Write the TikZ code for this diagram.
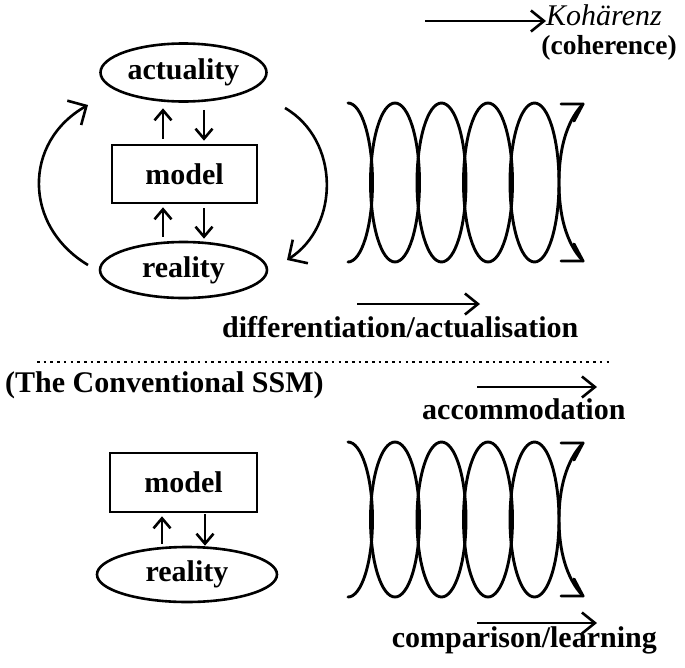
\documentclass[tikz,border=0pt]{standalone}
\usepackage{fontspec}
\setmainfont{Liberation Serif}
\usetikzlibrary{arrows.meta,shapes.geometric}
\begin{document}
\begin{tikzpicture}[x=1pt,y=-1pt,
  txt/.style={font=\bfseries\fontsize{30}{34}\selectfont, inner sep=0pt},
  itxt/.style={font=\itshape\fontsize{30}{34}\selectfont, inner sep=0pt},
  ell/.style={draw, ellipse, line width=2.6pt, inner sep=0pt, txt},
  box/.style={draw, rectangle, line width=2.6pt, inner sep=0pt, txt},
  bigar/.style={line width=2.6pt, -{Straight Barb[length=13pt,width=21pt]}},
  sar/.style={line width=2.6pt, -{Straight Barb[length=10pt,width=17pt]}},
  car/.style={line width=2.6pt, -{Straight Barb[length=14pt,width=28pt]}},
  coil/.style={line width=2.9pt, line join=round, line cap=round},
]
\useasboundingbox (0,0) rectangle (685,667);

% ---------- upper model ----------
\node[ell, minimum width=166pt, minimum height=58pt] (a1) at (183.5,72.5) {actuality};
\node[box, minimum width=145pt, minimum height=58pt] (m1) at (184.5,174) {model};
\node[ell, minimum width=167pt, minimum height=56pt] (r1) at (183.5,270) {reality};

\draw[sar, shorten <=5pt, shorten >=5.5pt] ([xshift=-21.5pt]m1.north) -- ([xshift=-21.5pt]m1.north |- a1.south);
\draw[sar, shorten <=7pt, shorten >=3pt] ([xshift=19.5pt]m1.north |- a1.south) -- ([xshift=19.5pt]m1.north);
\draw[sar, shorten <=4pt, shorten >=3pt] ([xshift=-21.5pt]m1.south |- r1.north) -- ([xshift=-21.5pt]m1.south);
\draw[sar, shorten <=4pt, shorten >=2pt] ([xshift=19.5pt]m1.south) -- ([xshift=19.5pt]m1.south |- r1.north);

\coordinate (l1) at (88,265);
\coordinate (l2) at (88,105);
\draw[car] (l1) .. controls (23,226) and (23,142) .. (l2);
\coordinate (rr1) at (285,108);
\coordinate (rr2) at (287,260);
\draw[car] (rr1) .. controls (340,140) and (340,226) .. (rr2);

% ---------- upper coil ----------
\draw[coil] (348,103) arc[start angle=-90,end angle=90,x radius=24.5,y radius=79.5];
\foreach \cx in {395,441.5,488,534.5}
  \draw[coil] (\cx,182.5) ellipse[x radius=24.5,y radius=79.5];
\draw[coil] (583,104) .. controls (566,122) and (559,150) .. (559,182.5)
                      .. controls (559,215) and (566,243) .. (583,261);
\draw[coil] (561,104) -- (583,104) -- (574,121);
\draw[coil] (561,261) -- (583,261) -- (574,244);

% ---------- upper labels ----------
\node[itxt, anchor=base west] (k) at (546,25) {Kohärenz};
\node[txt, font=\bfseries\fontsize{27.5}{32}\selectfont, anchor=base east] (coh) at (677,54) {(coherence)};
\coordinate (ka) at (425,21);
\draw[bigar] (ka) -- (k.west |- ka);

\node[txt, anchor=base west] (dif) at (222,337) {differentiation/actualisation};
\coordinate (d1) at (357,304);
\coordinate (d2) at (480,304);
\draw[bigar] (d1) -- (d2);

% ---------- separator ----------
\coordinate (s1) at (37,362);
\coordinate (s2) at (612,362);
\draw[line width=2.6pt, dash pattern=on 2.6pt off 4.1pt] (s1) -- (s2);
\node[txt, anchor=base west] (ssm) at (5,392) {(The Conventional SSM)};

\coordinate (c1) at (477,387);
\coordinate (c2) at (597,387);
\draw[bigar] (c1) -- (c2);
\node[txt, anchor=base west] (acc) at (422,419) {accommodation};

% ---------- lower model ----------
\node[box, minimum width=147pt, minimum height=59pt] (m2) at (183.5,482.5) {model};
\node[ell, minimum width=180pt, minimum height=55pt] (r2) at (187,574.5) {reality};
\draw[sar, shorten <=2pt, shorten >=3pt] ([xshift=-21.5pt]m2.south |- r2.north) -- ([xshift=-21.5pt]m2.south);
\draw[sar, shorten <=1pt, shorten >=0pt] ([xshift=21.5pt]m2.south) -- ([xshift=21.5pt]m2.south |- r2.north);

% ---------- lower coil ----------
\draw[coil] (348,442) arc[start angle=-90,end angle=90,x radius=24.5,y radius=77.5];
\foreach \cx in {395,441.5,488,534.5}
  \draw[coil] (\cx,519.5) ellipse[x radius=24.5,y radius=77.5];
\draw[coil] (583,443) .. controls (566,461) and (559,489) .. (559,519.5)
                      .. controls (559,550) and (566,578) .. (583,596);
\draw[coil] (561,443) -- (583,443) -- (574,460);
\draw[coil] (561,596) -- (583,596) -- (574,579);

\coordinate (b1) at (477,623);
\coordinate (b2) at (597,623);
\draw[bigar] (b1) -- (b2);
\node[txt, anchor=base east] (cmp) at (657,647) {comparison/learning};
\end{tikzpicture}
\end{document}
